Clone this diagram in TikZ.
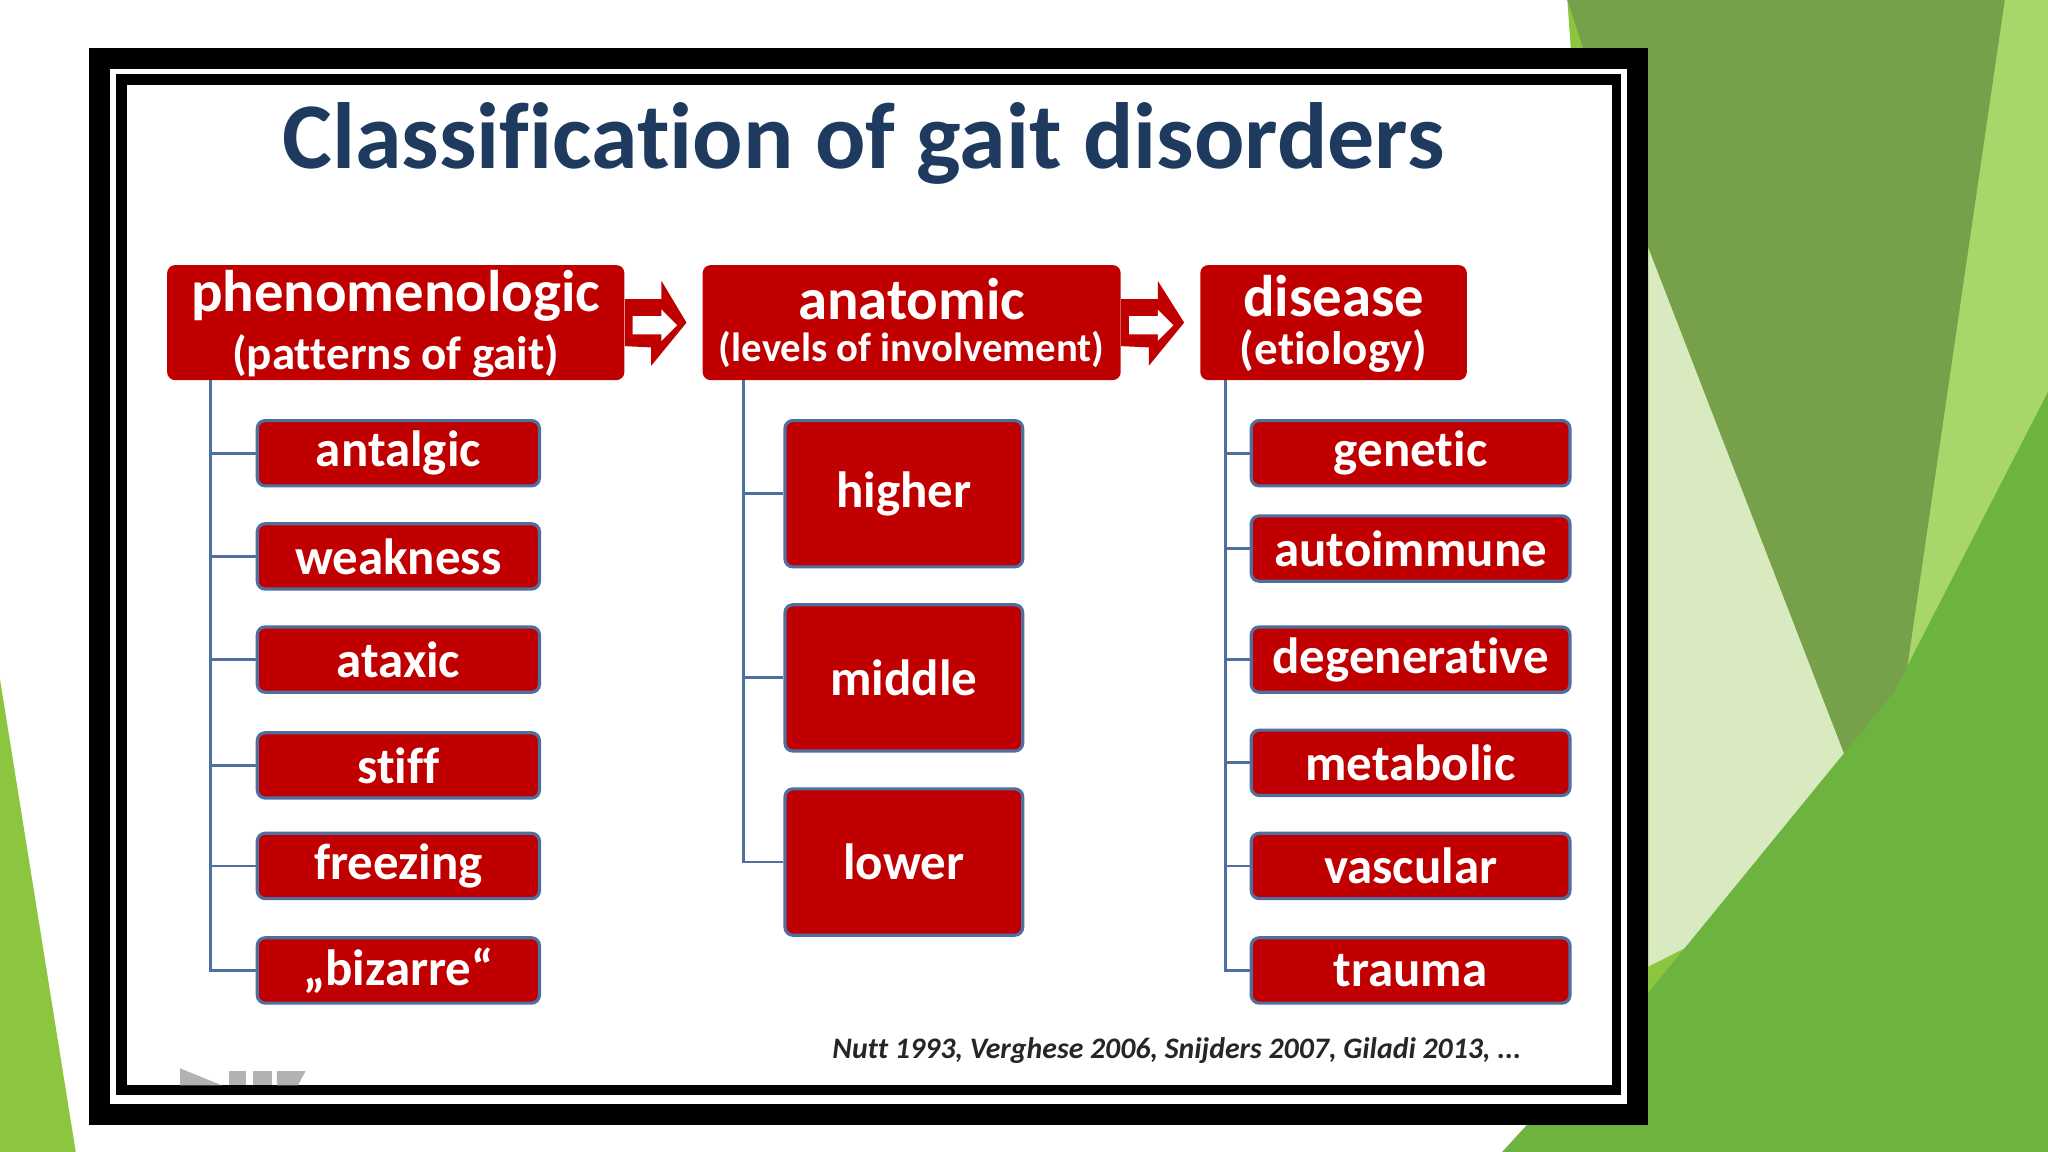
\documentclass[tikz,border=0pt]{standalone}
\usepackage{fontspec}
\setmainfont{Carlito}[Ligatures=NoCommon]
\definecolor{boxred}{HTML}{C00000}
\definecolor{edge}{HTML}{4F6FA0}
\definecolor{navy}{HTML}{1F3A5F}
\definecolor{gA}{HTML}{76A04A}
\definecolor{gB}{HTML}{8CC63E}
\definecolor{gC}{HTML}{D9EAC0}
\definecolor{gD}{HTML}{6DB33F}
\definecolor{gE}{HTML}{A9D66B}
\begin{document}
\begin{tikzpicture}[x=0.5pt,y=-0.5pt,
  hdr/.style={fill=boxred,rounded corners=3pt,text=white,font=\bfseries,align=center,inner sep=0pt,text depth=2pt},
  item/.style={fill=boxred,draw=edge,line width=1.2pt,rounded corners=3pt,text=white,font=\fontsize{19.5}{22}\selectfont\bfseries,inner sep=0pt},
  tree/.style={draw=edge,line width=1.1pt}]
\useasboundingbox (0,0) rectangle (1568,882);
\fill[white] (0,0) rectangle (1568,882);
% green background
\fill[gB] (1200,0) -- (1568,0) -- (1568,882) -- (1262,882) -- cycle;
\fill[gA] (1200,0) -- (1535,0) -- (1440,650) -- (1262,190) -- cycle;
\fill[gE] (1535,0) -- (1568,0) -- (1568,300) -- (1440,650) -- cycle;
\fill[gC] (1262,190) -- (1440,650) -- (1262,740) -- cycle;
\fill[gD] (1262,760) -- (1450,530) -- (1568,300) -- (1568,882) -- (1150,882) -- cycle;
\fill[gB] (0,520) -- (58,882) -- (0,882) -- cycle;
% frames
\fill[black] (68,37) rectangle (1262,861);
\fill[white] (84,53) rectangle (1246,845);
\fill[black] (89,57) rectangle (1241,838);
\fill[white] (97,65) rectangle (1234,831);
\fill[gray!60] (138,818) -- (170,831) -- (138,831) -- cycle;
\fill[gray!60] (175,820) rectangle (188,831);
\fill[gray!60] (194,820) rectangle (208,831);
\fill[gray!60] (212,820) -- (234,820) -- (228,831) -- (212,831) -- cycle;
% title
\node[text=navy,font=\fontsize{36}{40}\selectfont\bfseries] (title) at (661,110) {Classification of gait disorders};
% headers
\node[hdr,minimum width=175pt,minimum height=44pt] (P) at (303,247) {\fontsize{22.5}{24}\selectfont phenomenologic\\[4pt]\fontsize{18}{20}\selectfont (patterns of gait)};
\node[hdr,minimum width=160pt,minimum height=44pt] (A) at (698,247) {\fontsize{22.5}{24}\selectfont anatomic\\[4pt]\fontsize{15.6}{20}\selectfont (levels of involvement)};
\node[hdr,minimum width=102pt,minimum height=44pt] (D) at (1021,247) {\fontsize{22.5}{24}\selectfont disease\\[4pt]\fontsize{18}{20}\selectfont (etiology)};
% block arrows
\foreach \s/\t in {P/A,A/D}{
  \fill[boxred] ([yshift=9pt]\s.east) -- ++(28,0) -- ++(0,-14) -- ([xshift=-6]\t.west) -- ++(-27,33) -- ++(0,-14) -- ([yshift=-9pt]\s.east) -- cycle;
  \fill[white] ([shift={(6,2.5pt)}]\s.east) -- ++(22,0) -- ++(0,-5) -- ++(12,12) -- ++(-12,12) -- ++(0,-5) -- ++(-22,0) -- cycle;
}
% left items
\foreach \n/\y/\t in {a1/347/antalgic,a2/426/weakness,a3/505/ataxic,a4/586/stiff,a5/663/freezing,a6/743/„bizarre“}
  \node[item,minimum width=108pt,minimum height=25pt] (\n) at (305,\y) {\t};
\coordinate (pl) at (161,291);
\draw[tree] (pl) |- (a6.west);
\foreach \n in {a1,a2,a3,a4,a5} \draw[tree] (pl |- \n.west) -- (\n.west);
% middle items
\foreach \n/\y/\t in {m1/378/higher,m2/519/middle,m3/660/lower}
  \node[item,minimum width=91pt,minimum height=56pt] (\n) at (692,\y) {\t};
\coordinate (ml) at (569,291);
\draw[tree] (ml) |- (m3.west);
\foreach \n in {m1,m2} \draw[tree] (ml |- \n.west) -- (\n.west);
% right items
\foreach \n/\y/\t in {d1/347/genetic,d2/420/autoimmune,d3/505/degenerative,d4/584/metabolic,d5/663/vascular,d6/743/trauma}
  \node[item,minimum width=122pt,minimum height=25pt] (\n) at (1080,\y) {\t};
\coordinate (dl) at (938,291);
\draw[tree] (dl) |- (d6.west);
\foreach \n in {d1,d2,d3,d4,d5} \draw[tree] (dl |- \n.west) -- (\n.west);
% citation
\node[font=\fontsize{11.4}{13}\selectfont\bfseries\itshape,text=black!85] (cite) at (901,804) {Nutt 1993, Verghese 2006, Snijders 2007, Giladi 2013, ...};
\end{tikzpicture}
\end{document}
